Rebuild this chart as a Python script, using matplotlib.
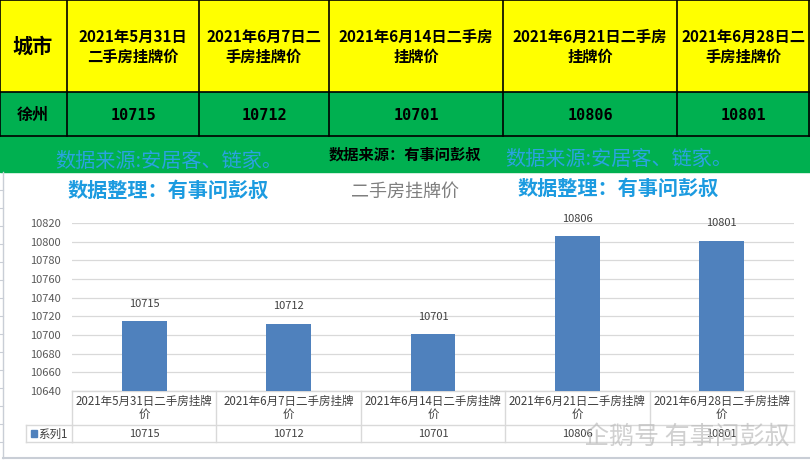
import matplotlib
matplotlib.use("Agg")
import matplotlib.pyplot as plt
from matplotlib.patches import Rectangle
from matplotlib import transforms

plt.rcParams['font.family'] = ['Noto Sans CJK SC', 'DejaVu Sans']

# 数据
city = "徐州"
dates = ["2021年5月31日", "2021年6月7日", "2021年6月14日", "2021年6月21日", "2021年6月28日"]
prices = [10715, 10712, 10701, 10806, 10801]
header_labels = ["2021年5月31日\n二手房挂牌价", "2021年6月7日二\n手房挂牌价", "2021年6月14日二手房\n挂牌价",
                 "2021年6月21日二手房\n挂牌价", "2021年6月28日二\n手房挂牌价"]
series_name = "系列1"
chart_title = "二手房挂牌价"
yticks = [10640, 10660, 10680, 10700, 10720, 10740, 10760, 10780, 10800, 10820]

W, H = 810, 461
fig = plt.figure(figsize=(W / 100, H / 100), dpi=100)

# 背景层（像素坐标）
bg = fig.add_axes([0, 0, 1, 1])
bg.set_xlim(0, W)
bg.set_ylim(H, 0)
bg.axis('off')

# 顶部表格
col_x = [0, 67, 199, 329, 503, 677, 809]
bg.add_patch(Rectangle((0, 0), W, 92, color='#FFFF00', zorder=0))
bg.add_patch(Rectangle((0, 92), W, 44, color='#00B050', zorder=0))
bg.add_patch(Rectangle((0, 136), W, 36, color='#00B050', zorder=0))
for x in col_x:
    bg.plot([x, x], [0, 136], color='black', lw=1.2)
for y in [0.5, 92, 136]:
    bg.plot([0, W], [y, y], color='black', lw=1.2)

bg.text(33, 46, "城市", fontsize=14.5, fontweight='bold', ha='center', va='center')
bg.text(33, 115, city, fontsize=11.5, fontweight='bold', ha='center', va='center')
for i in range(len(dates)):
    cx = (col_x[i + 1] + col_x[i + 2]) / 2
    bg.text(cx, 47, header_labels[i], fontsize=11, fontweight='bold', ha='center', va='center',
            linespacing=1.3)
    bg.text(cx, 115, str(prices[i]), fontsize=11, fontweight='bold', ha='center', va='center',
            family=['DejaVu Sans Mono', 'DejaVu Sans'])

# 图表区边框
bg.plot([3, 3], [172, 458], color='#C9CED6', lw=1)
bg.plot([3, W], [458, 458], color='#C9CED6', lw=1.5)
for y in range(190, 458, 18):
    bg.plot([0, 3], [y, y], color='#C9CED6', lw=0.8)

# 柱状图
ax = fig.add_axes([72 / W, 1 - 391 / H, (794 - 72) / W, (391 - 223) / H])
ax.set_zorder(2)
ax.patch.set_alpha(0)
xs = list(range(len(prices)))
bars = ax.bar(xs, [p - yticks[0] for p in prices], bottom=yticks[0], width=0.31,
              color='#4F81BD', zorder=3)
ax.set_xlim(-0.5, len(prices) - 0.5)
ax.set_ylim(yticks[0], yticks[-1])
ax.set_yticks(yticks)
ax.set_xticks([])
ax.tick_params(axis='y', length=0, labelsize=8, labelcolor='#595959', pad=8)
ax.grid(axis='y', color='#D9D9D9', lw=0.9, zorder=0)
for s in ax.spines.values():
    s.set_visible(False)
for x, p in zip(xs, prices):
    ax.annotate(str(p), (x, p), xytext=(0, 9), textcoords='offset points', ha='center',
                va='bottom', fontsize=8, color='#404040')

# 数据表（x 用图表坐标，y 用像素）
tr = transforms.blended_transform_factory(ax.transData, bg.transData)
grid_c = '#D9D9D9'
edges = [x - 0.5 for x in xs] + [xs[-1] + 0.5]
for e in edges:
    bg.plot([e, e], [391, 442], color=grid_c, lw=1, transform=tr)
bg.plot([edges[0], edges[-1]], [391, 391], color=grid_c, lw=1, transform=tr)
bg.plot([26, 72], [425, 425], color=grid_c, lw=1)
bg.plot([26, 72], [442, 442], color=grid_c, lw=1)
bg.plot([26, 26], [425, 442], color=grid_c, lw=1)
bg.plot([edges[0], edges[-1]], [425, 425], color=grid_c, lw=1, transform=tr)
bg.plot([edges[0], edges[-1]], [442, 442], color=grid_c, lw=1, transform=tr)
for x, d, p in zip(xs, dates, prices):
    lab = d + "二手房挂牌价"
    bg.text(x, 408, lab[:-1] + "\n" + lab[-1], transform=tr, ha='center', va='center',
            fontsize=8.3, color='#404040', linespacing=0.95)
    bg.text(x, 434, str(p), transform=tr, ha='center', va='center', fontsize=8, color='#404040')
bg.add_patch(Rectangle((31, 430), 6, 7, color='#4F81BD'))
bg.text(38, 434, series_name, ha='left', va='center', fontsize=8.3, color='#404040')

# 顶层文字
top = fig.add_axes([0, 0, 1, 1])
top.set_zorder(5)
top.set_xlim(0, W)
top.set_ylim(H, 0)
top.axis('off')
top.text(405, 192, chart_title, fontsize=13, color='#7F7F7F', ha='center', va='center')
top.text(405, 155, "数据来源：有事问彭叔", fontsize=11, fontweight='bold', ha='center', va='center')
for x0, y0 in [(55, 161), (505, 159)]:
    top.text(x0, y0, "数据来源:安居客、链家。", fontsize=14.5, color='#2AA3E0', ha='left', va='center')
for x0, y0 in [(68, 190), (518, 188)]:
    top.text(x0, y0, "数据整理：有事问彭叔", fontsize=14.5, fontweight='bold', color='#1C9BE0',
             ha='left', va='center')
top.text(790, 437, "企鹅号 有事问彭叔", fontsize=18, color='#BDBDBD', alpha=0.7, ha='right', va='center')

fig.savefig("out.png", dpi=100)
